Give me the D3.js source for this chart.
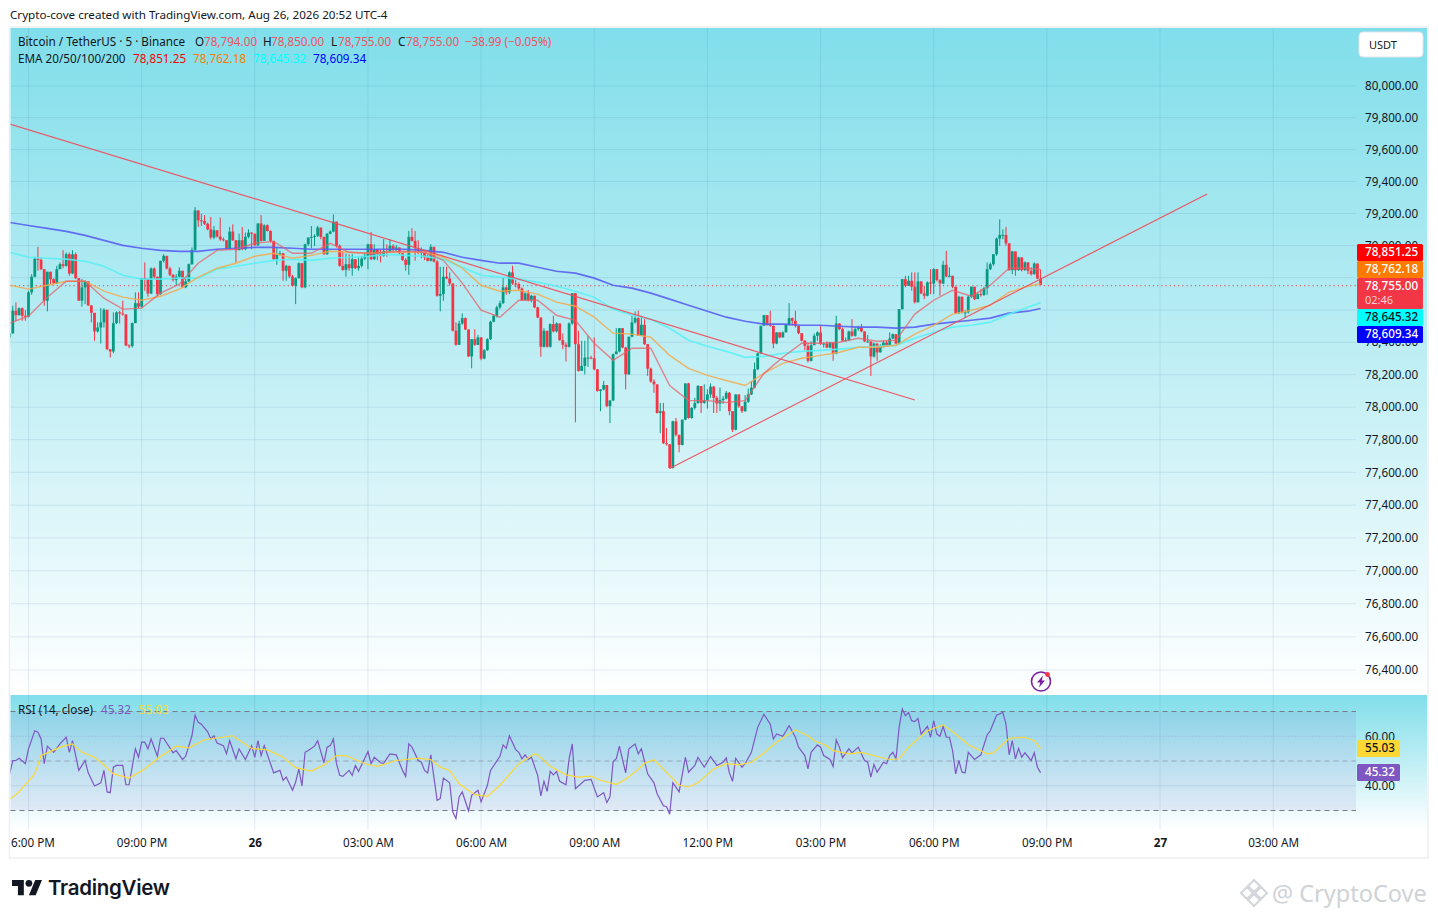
<!DOCTYPE html>
<html><head><meta charset="utf-8">
<script src="https://cdnjs.cloudflare.com/ajax/libs/d3/7.8.5/d3.min.js"></script>
<style>
html,body{margin:0;padding:0;background:#fff;overflow:hidden}
svg{display:block}
text{font-family:"Noto Sans",sans-serif;font-size:11.7px;fill:#131722}
</style></head><body><svg id="c" width="1438" height="918"></svg>
<script>
// ---------- data ----------
const firstOpen = 78430;
const firstBar = -6; // 17:30, bar 0 = 18:00 on Aug 25, one bar = 5 minutes
const closes = [
78456,78595,78568,78611,78564,78558,78709,78806,78917,78911,
78853,78657,78837,78791,78764,78853,78884,78874,78946,78826,
78946,78797,78657,78740,78777,78628,78582,78467,78491,78523,
78601,78357,78343,78518,78585,78578,78572,78380,78376,78518,
78642,78620,78797,78791,78702,78857,78806,78698,78905,78936,
78857,78818,78785,78806,78843,78740,78777,78884,78973,79219,
79157,79153,79136,79101,79050,79095,79056,79039,79033,78981,
79087,79033,78971,79033,78977,79054,79081,79074,79002,79138,
79029,79126,79091,79029,78915,78946,78952,78843,78874,78808,
78750,78797,78890,78740,79008,79050,79054,79060,79112,79054,
78946,79074,79087,79149,78998,78874,78849,78884,78859,78915,
78859,78874,
78919,78936,79008,78915,78977,78946,78936,78967,
78963,78998,78971,78988,78952,78911,78880,79054,79029,78983,
78957,78963,78926,78905,78992,78901,78688,78698,78806,78795,
78764,78471,78384,78516,78549,78479,78312,78419,78384,78430,
78299,78351,78419,78527,78564,78616,78642,78740,78709,78833,
78764,78760,78733,78661,78702,78661,78688,78616,78553,78372,
78471,78372,78512,78467,78516,78413,78384,78372,78516,78704,
78388,78223,78254,78305,78305,78301,78233,78099,78109,78136,
78006,78041,78326,78343,78487,78367,78202,78434,78523,78549,
78440,78508,78388,78237,78157,78140,77964,77975,77778,77772,
77627,77913,77830,77768,77923,78146,77933,77995,78026,78130,
78026,78043,78078,78126,78057,78022,
78043,78053,78088,77975,77861,78078,78006,77975,78033,78078,
78120,78233,78332,78502,78568,78508,78502,78392,78461,78430,
78461,78512,78549,78533,78502,78456,78409,78378,78285,78382,
78440,78461,78388,78392,78367,78398,78330,78516,78481,78409,
78413,78467,78440,78481,78491,78467,78405,78405,78312,78392,
78337,78372,78398,78378,78423,78450,78392,78605,78791,78750,
78781,78744,78647,78777,78702,78688,78771,78764,78853,78785,
78764,78880,78808,78812,78744,78580,78682,78585,78585,78682,
78744,78667,78698,78692,78735,78853,78884,78946,79043,79066,
79066,79014,78847,78963,78847,78926,78847,78895,78843,78822,
78888,78794,78755];
const highs = [
78460,78626,78647,78615,78615,78599,78719,78822,78930,78992,
78926,78853,78837,78837,78797,78874,78895,78971,78957,78957,
78971,78957,78797,78791,78785,78760,78628,78582,78523,78611,
78611,78601,78357,78585,78591,78595,78657,78572,78388,78523,
78709,78709,78797,78895,78797,78864,78864,78806,78905,78946,
78905,78868,78822,78822,78864,78843,78797,78888,78988,79240,
79219,79198,79190,79143,79178,79122,79095,79174,79050,79033,
79116,79132,79033,79074,79116,79081,79101,79081,79074,79138,
79190,79132,79132,79095,79029,78992,78967,78952,78880,78874,
78818,78802,78895,78890,79012,79050,79122,79070,79122,79112,
79054,79078,79095,79194,79149,79008,78967,78950,78946,78946,
78915,78926,
78936,78957,79012,79085,79008,78977,78977,79039,
79008,79039,79008,79004,78988,78952,78921,79091,79108,79091,
79033,78988,78963,78946,79008,78992,78909,78868,78868,78868,
78833,78764,78523,78533,78578,78553,78479,78419,78481,78446,
78430,78357,78425,78533,78570,78626,78657,78802,78744,78839,
78874,78785,78771,78740,78709,78723,78694,78688,78620,78553,
78487,78471,78516,78564,78523,78516,78454,78399,78523,78704,
78704,78471,78409,78409,78440,78316,78429,78233,78109,78161,
78136,78041,78330,78487,78487,78481,78372,78434,78564,78591,
78595,78564,78543,78388,78243,78171,78140,78026,78026,77871,
77772,77917,77933,77830,77923,78146,78150,78000,78057,78136,
78130,78140,78109,78146,78130,78068,
78120,78068,78099,78093,77975,78078,78078,78006,78074,78115,
78161,78275,78332,78502,78568,78568,78595,78502,78461,78461,
78467,78516,78642,78554,78595,78502,78456,78413,78398,78405,
78454,78467,78502,78398,78405,78403,78398,78564,78516,78491,
78430,78471,78543,78491,78502,78512,78467,78446,78405,78398,
78392,78388,78409,78409,78461,78454,78450,78605,78791,78812,
78812,78833,78833,78833,78777,78750,78777,78853,78859,78853,
78791,78905,78967,78864,78812,78744,78688,78682,78599,78688,
78744,78744,78709,78729,78744,78895,78895,78946,79050,79163,
79101,79116,79014,78967,78963,78930,78926,78901,78895,78864,
78895,78888,78850];
const lows = [
78374,78450,78533,78564,78533,78533,78554,78694,78802,78843,
78847,78626,78591,78760,78760,78760,78853,78859,78868,78812,
78822,78791,78657,78620,78636,78624,78523,78409,78460,78392,
78491,78351,78305,78332,78512,78516,78564,78376,78363,78367,
78518,78611,78615,78719,78682,78698,78791,78682,78694,78895,
78851,78810,78777,78750,78797,78735,78735,78771,78880,78967,
79116,79122,79128,79095,79039,79039,79050,79029,79025,78975,
78977,79029,78895,78971,78971,78971,79045,78977,78998,78998,
79025,79029,79087,79019,78911,78880,78936,78781,78781,78797,
78746,78636,78795,78735,78735,78998,78983,78998,79054,79039,
78942,78942,79070,79083,78988,78868,78843,78806,78843,78812,
78853,78843,
78864,78909,78853,78909,78909,78909,78895,78930,
78930,78957,78963,78967,78946,78905,78843,78818,79025,78905,
78946,78921,78909,78901,78901,78895,78682,78591,78657,78791,
78750,78467,78378,78384,78508,78475,78310,78239,78378,78384,
78289,78295,78347,78413,78523,78553,78605,78636,78694,78698,
78756,78740,78723,78657,78657,78653,78647,78611,78549,78310,
78367,78367,78367,78461,78461,78409,78357,78281,78367,78508,
77907,78219,78223,78202,78248,78295,78227,78095,77975,78103,
78000,77902,78037,78326,78337,78363,78109,78198,78430,78516,
78440,78440,78384,78192,78150,78088,77960,77840,77774,77764,
77623,77623,77820,77723,77764,77919,77929,77929,77985,78020,
77964,78020,77991,78057,77964,77964,
77975,78020,78047,77950,77847,77857,77995,77964,77971,78026,
78074,78115,78227,78326,78502,78502,78496,78363,78388,78425,
78430,78461,78502,78502,78491,78450,78405,78351,78275,78281,
78382,78409,78384,78367,78363,78363,78285,78326,78475,78405,
78405,78409,78434,78434,78471,78461,78401,78398,78192,78305,
78285,78337,78367,78372,78378,78419,78388,78388,78601,78740,
78750,78719,78640,78729,78698,78667,78684,78698,78698,78777,
78688,78760,78802,78802,78735,78574,78574,78578,78549,78578,
78673,78661,78667,78682,78688,78694,78847,78874,78936,78998,
79039,78998,78843,78822,78812,78843,78839,78843,78822,78812,
78818,78791,78755];
// moving averages, read every 30 minutes, plus the last bar
const emaBars = d3.range(-6, 322, 6).concat([322]);
const ema20 = [78518,78561,78679,78778,78778,78673,78605,78611,78704,78760,78890,78970,78977,79014,79026,78952,78952,79014,78958,
78952,78958,78964,78958,78908,78766,78598,78555,78660,78660,78567,78536,78394,78288,78363,78363,78133,78040,78040,
78028,78040,78208,78307,78394,78394,78400,78425,78406,78412,78574,78660,78722,78685,78753,78859,78859,78851];
const ema50 = [78753,78729,78753,78778,78778,78716,78679,78660,78685,78729,78803,78859,78890,78933,78952,78921,78939,78964,78958,
78952,78958,78958,78958,78927,78859,78753,78716,78722,78698,78648,78623,78555,78456,78450,78431,78319,78239,78195,
78164,78133,78208,78270,78301,78319,78338,78369,78369,78381,78450,78505,78574,78598,78629,78710,78747,78762];
const ema100 = [78958,78927,78921,78915,78902,78871,78815,78791,78791,78797,78797,78853,78871,78890,78908,78915,78908,78921,78927,
78933,78945,78939,78933,78915,78865,78815,78803,78791,78772,78747,78716,78679,78605,78567,78543,78487,78412,78375,
78344,78307,78313,78332,78344,78350,78357,78369,78375,78381,78425,78462,78493,78505,78524,78574,78617,78645];
const ema200 = [79144,79125,79107,79088,79063,79032,79001,78983,78970,78964,78964,78977,78983,78989,78989,78983,78977,78977,78977,
78977,78977,78977,78970,78958,78927,78908,78890,78890,78865,78840,78828,78797,78753,78735,78704,78667,78629,78592,
78555,78530,78512,78512,78505,78505,78499,78493,78493,78487,78493,78512,78524,78536,78549,78580,78592,78609];
// [bar, value]
const rsiPoints = [[-6,44.8],[-5,50.2],[-4,50.2],[-3,51.1],[-1,48.9],[0,54.9],[2,62.2],[3,61.6],[4,58.9],[5,48.9],[6,56],[8,53.5],[10,56.9],[12,59.6],[13,53.5],[14,58.2],[16,46.2],[18,50.2],[19,45.2],[21,39.9],[23,41.2],[24,46.2],[25,37.5],[26,37.2],[27,47.5],[28,48.2],[30,48.2],[31,40.4],[32,40.4],[34,54.9],[35,51.5],[36,57.6],[37,57.6],[38,54.9],[39,58.9],[41,51.9],[42,59.2],[43,59.2],[46,53.3],[47,54.2],[49,50.6],[50,51.9],[52,60.2],[53,68.5],[54,65.6],[55,64.9],[57,61.8],[58,58.9],[59,60.2],[60,57.3],[62,56.2],[63,52.9],[64,58.2],[66,50.9],[67,54.9],[69,50.6],[71,56.2],[72,51.5],[73,58.2],[74,52.2],[75,56.2],[77,48.9],[78,45.2],[80,46.2],[81,42.2],[82,43.5],[84,38.2],[85,41.5],[86,46.8],[87,39.9],[88,53.5],[89,54.2],[91,56],[92,58.2],[94,49.3],[95,55.6],[96,56.2],[97,58.9],[98,48.9],[99,44.2],[100,43.8],[102,46.2],[103,44.2],[104,48.2],[105,45.8],[108,53.8],[109,48.9],[110,51.5],[112,49.3],[113,49.1],[115,52.9],[117,52.5],[119,46.2],[120,43.8],[121,56.9],[122,55.6],[124,50.2],[125,49.5],[126,46.2],[127,45.2],[128,52.5],[130,34.1],[131,34.8],[132,43.1],[134,41.2],[135,29.4],[136,26.8],[137,35.5],[138,37.5],[140,29.8],[141,36.1],[143,38.2],[144,33.5],[146,40.2],[147,46.2],[150,51.9],[151,56.5],[152,55.1],[153,60.2],[155,54.6],
[156,53.5],[157,50.9],[158,52.5],[159,50.6],[160,51.5],[162,44.2],[163,35.9],[164,41.8],[165,37.7],[166,45.8],[167,44.4],[168,45.8],[169,41.8],[171,40.4],[172,50.9],[173,56.9],[174,38.8],[177,42.2],[179,42.6],[181,35.5],[183,37.2],[184,33.2],[185,35.5],[186,49.8],[187,50.9],[188,56],[190,45.2],[191,54.9],[193,56.9],[194,52.9],[195,54.9],[197,44.8],[199,41.2],[200,36.8],[202,31.9],[203,31.5],[204,28.5],[205,41.2],[207,37.5],[209,51.5],[210,45.5],[212,48.2],[213,51.5],[215,47.5],[217,51.8],[219,48.2],[221,49.5],[222,51.3],[223,45.2],[224,41.8],[225,51.1],[227,47.5],[228,48.9],[230,53.5],[232,63.6],[234,68.9],[236,64.9],[237,58.9],[238,60.9],[240,60],[242,64.3],[244,59.6],[245,55.6],[247,52.2],[248,46.8],[249,53.5],[251,56.5],[252,55.6],[253,52.2],[255,50.6],[256,47.8],[257,58.6],[258,55.6],[259,51.3],[261,54.9],[262,53.3],[264,55.6],[266,50.2],[267,49.5],[268,43.5],[269,48.6],[270,45.5],[272,49.5],[273,48.9],[274,52.2],[275,53.5],[276,50.9],[277,63.6],[278,71],[279,68.3],[280,69.6],[281,66.3],[282,65.9],[283,67.2],[284,60.9],[286,64],[287,59.6],[288,66.3],[289,60.9],[290,60],[291,64],[292,59.6],[293,59.6],[294,54.2],[295,44.8],[296,50.2],[297,45.5],[298,45.2],[299,53.5],[301,50.6],[303,52.5],[305,60.5],[306,62.2],[308,68.5],[310,69.6],[311,64.9],[312,52.5],[313,58.2],[314,50.9],[315,55.1],[316,51.5],[317,53.3],[319,50.2],[320,53.3],[321,47.5],[322,45.32]];
const rsiMaPoints = [[-6,34.4],[-3,37.5],[2,44.8],[4,52.2],[7,53.8],[10,55.6],[14,56.9],[17,53.5],[21,51.5],[24,48.4],[27,44.8],[32,43.1],[37,46.8],[41,50.9],[47,56],[51,55.3],[56,58.6],[65,60.2],[71,55.1],[76,54.5],[81,51.5],[85,47.3],[90,45.9],[94,48.4],[98,52.2],[101,52.2],[107,48.9],[111,47.8],[117,50.2],[124,51.1],[128,50.6],[131,47.5],[134,46.2],[137,40.8],[142,36.4],[146,35.7],[150,40.2],[156,48.9],[161,52.9],[162,52.5],[166,47.9],[171,44.4],[175,43.5],[179,43.9],[182,42.2],[187,40.6],[190,42.6],[194,46.6],[196,49.1],[199,50.5],[204,44.2],[207,40.2],[210,39.5],[213,41.2],[218,46.8],[222,48.9],[226,48.4],[230,49.5],[233,52.2],[238,57.6],[244,62.6],[248,60.2],[250,58.2],[254,56.2],[256,54.2],[261,52.9],[265,53.5],[271,51.5],[274,50.6],[277,50.9],[280,55.6],[286,62.2],[291,64.6],[295,60.9],[299,56.6],[305,52.9],[307,53.3],[312,59.2],[317,59.6],[320,58.2],[322,55.03]];
const trendDown = [[-6,79761],[282,78044]];
const trendUp = [[204,77623],[375,79322]];
const priceTicks = d3.range(76400, 80001, 200);
const hiddenPriceLabels = [78600,78800]; // fully covered by the value tags in the reference
const timeBars = [0,36,72,108,144,180,216,252,288,324,360,396];
const timeLabels = ["6:00 PM","09:00 PM","26","03:00 AM","06:00 AM","09:00 AM","12:00 PM","03:00 PM","06:00 PM","09:00 PM","27","03:00 AM"];
const boldLabels = ["26","27"];
const lastPrice = 78755;
const rsiTicks = [60,40];

// ---------- scales ----------
const svg = d3.select("#c");
const x = d3.scaleLinear().domain([0,36]).range([28.5,141.65]);
const y = d3.scaleLog().domain([80000,76400]).range([86,670]);
const r = d3.scaleLinear().domain([70,30]).range([711.5,810.5]);
const L=10.5,R=1356,PT=28,PB=695,RT=695,RB=830,AX=1428;

const defs = svg.append("defs");
function grad(id,stops){const g=defs.append("linearGradient").attr("id",id).attr("x1",0).attr("x2",0).attr("y1",0).attr("y2",1);
 stops.forEach(s=>g.append("stop").attr("offset",s[0]).attr("stop-color",s[1]));}
grad("g1",[[0,"#80deea"],[1,"#ffffff"]]);
grad("g2",[[0,"#80deea"],[1,"#ffffff"]]);
defs.append("clipPath").attr("id","cp").append("rect").attr("x",L).attr("y",PT).attr("width",R-L).attr("height",PB-PT);
defs.append("clipPath").attr("id","cr").append("rect").attr("x",L).attr("y",RT).attr("width",R-L).attr("height",RB-RT);

// frame + background
svg.append("rect").attr("x",L-1).attr("y",PT-1).attr("width",AX-L+1).attr("height",858-PT+1).attr("fill","#fff").attr("stroke","#eceef1").attr("stroke-width",1.5);
svg.append("rect").attr("x",L).attr("y",PT).attr("width",AX-L-1).attr("height",PB-PT).attr("fill","url(#g1)");
svg.append("rect").attr("x",L).attr("y",RT).attr("width",AX-L-1).attr("height",RB-RT).attr("fill","url(#g2)");

// grid
const gridCol="rgba(70,110,160,0.13)";
svg.append("g").selectAll("line").data(timeBars).join("line")
 .attr("x1",d=>x(d)).attr("x2",d=>x(d)).attr("y1",PT).attr("y2",RB).attr("stroke",gridCol);
svg.append("g").selectAll("line").data(priceTicks).join("line")
 .attr("x1",L).attr("x2",R).attr("y1",d=>y(d)).attr("y2",d=>y(d)).attr("stroke",gridCol);

// price axis
const ya=d3.axisRight(y).tickValues(priceTicks.filter(d=>!hiddenPriceLabels.includes(d))).tickSize(0).tickPadding(0).tickFormat(d3.format(",.2f"));
const yag=svg.append("g").attr("transform",`translate(1365,0)`).call(ya);
yag.select(".domain").remove();
yag.selectAll("text").attr("style","font-size:11.7px;font-family:'Noto Sans',sans-serif").attr("fill","#131722");

// time axis
const xa=d3.axisBottom(x).tickValues(timeBars).tickSize(0).tickPadding(0).tickFormat((d,i)=>timeLabels[i]);
const xag=svg.append("g").attr("transform",`translate(0,838)`).call(xa);
xag.select(".domain").remove();
xag.selectAll("text").attr("dy",0).attr("y",9).attr("style",(d,i)=>"font-size:11.7px;font-family:'Noto Sans',sans-serif;font-weight:"+(boldLabels.includes(timeLabels[i])?"700":"400")).attr("fill","#131722");
xag.selectAll("text").filter((d,i)=>i===0).attr("text-anchor","start").attr("x",L-x(0));

// price dotted line
svg.append("line").attr("x1",L).attr("x2",R).attr("y1",y(lastPrice)+.8).attr("y2",y(lastPrice)+.8).attr("stroke","#f23645").attr("stroke-dasharray","1.2 3").attr("stroke-width",1);

// candles
const candles=closes.map((c,i)=>{const o=i?closes[i-1]:firstOpen;return {k:firstBar+i,o,c,h:Math.max(highs[i],o,c),l:Math.min(lows[i],o,c)};});
const UP="#089981",DN="#f23645";
const cg=svg.append("g").attr("clip-path","url(#cp)");
cg.selectAll("line.w").data(candles).join("line").attr("class","w")
 .attr("x1",d=>x(d.k)).attr("x2",d=>x(d.k)).attr("y1",d=>y(d.h)).attr("y2",d=>y(d.l))
 .attr("stroke",d=>d.c>=d.o?UP:DN).attr("stroke-width",1);
cg.selectAll("rect").data(candles).join("rect")
 .attr("x",d=>x(d.k)-1.4).attr("width",2.8)
 .attr("y",d=>y(Math.max(d.o,d.c))).attr("height",d=>Math.max(1,Math.abs(y(d.o)-y(d.c))))
 .attr("fill",d=>d.c>=d.o?UP:DN);

// moving averages + trend lines
const lg=svg.append("g").attr("clip-path","url(#cp)").attr("fill","none");
const pl=d3.line().x(d=>x(d[0])).y(d=>y(d[1]));
const emaStyles=[[ema200,"#5a5ff2",1.7,.9],[ema100,"#55f1f6",1.7,.85],[ema50,"#f5a94a",1.4,.85],[ema20,"#e8606a",1.4,.75]];
emaStyles.forEach(s=>lg.append("path").attr("d",pl(emaBars.map((b,i)=>[b,s[0][i]]))).attr("stroke",s[1]).attr("stroke-width",s[2]).attr("opacity",s[3]));
[trendDown,trendUp].forEach(t=>lg.append("path").attr("d",pl(t)).attr("stroke","#ef4f5c").attr("stroke-width",1.2).attr("opacity",.95));

// RSI pane
svg.append("rect").attr("x",L).attr("y",r(70)).attr("width",R-L).attr("height",r(30)-r(70)).attr("fill","rgba(126,87,194,0.10)");
const dash=(v,col,da)=>svg.append("line").attr("x1",L).attr("x2",R).attr("y1",r(v)).attr("y2",r(v)).attr("stroke",col).attr("stroke-dasharray",da);
dash(70,"#787b86","5 4");dash(30,"#787b86","5 4");dash(50,"rgba(120,123,134,0.55)","5 4");
dash(60,"rgba(126,87,194,0.35)","1 2");dash(40,"rgba(70,110,160,0.15)","none");
const rl=d3.line().x(d=>x(d[0])).y(d=>r(d[1]));
const rg=svg.append("g").attr("clip-path","url(#cr)").attr("fill","none");
rg.append("path").attr("d",rl(rsiPoints)).attr("stroke","#7e57c2").attr("stroke-width",1.2);
rg.append("path").attr("d",rl(rsiMaPoints)).attr("stroke","#fdd835").attr("stroke-width",1.2);
const rsiAx=d3.axisRight(r).tickValues(rsiTicks).tickSize(0).tickPadding(0).tickFormat(d3.format(".2f"));
const rag=svg.append("g").attr("transform","translate(1365,0)").call(rsiAx);
rag.select(".domain").remove();
rag.selectAll("text").attr("style","font-size:11.7px;font-family:'Noto Sans',sans-serif").attr("fill","#131722");

// tags
function tag(x0,y0,w,h,fill,txt,col,sub){
 svg.append("rect").attr("x",x0).attr("y",y0).attr("width",w).attr("height",h).attr("rx",1.5).attr("fill",fill);
 svg.append("text").attr("x",x0+8).attr("y",y0+12).attr("style",`fill:${col};font-weight:500;font-size:11.7px`).text(txt);
 if(sub) svg.append("text").attr("x",x0+8).attr("y",y0+26).attr("style","fill:#fbd0d4;font-size:11px").text(sub);
}
tag(1357,244,66,17,"#ff0000","78,851.25","#fff");
tag(1357,261,66,17,"#ff7b00","78,762.18","#fff");
tag(1357,278,66,31,"#f23645","78,755.00","#fff","02:46");
tag(1357,309,66,17,"#00ffff","78,645.32","#131722");
tag(1357,326,66,17,"#0000ff","78,609.34","#fff");
tag(1357,740,43,17,"#fdd835","55.03","#131722");
tag(1357,764,43,17,"#7e57c2","45.32","#fff");

// USDT button
svg.append("rect").attr("x",1359).attr("y",32).attr("width",64).attr("height",25).attr("rx",4).attr("fill","#fff").attr("stroke","#e0e3eb");
svg.append("text").attr("x",1369).attr("y",49).attr("style","font-size:11px").text("USDT");

// header + legends
svg.append("text").attr("x",10).attr("y",19).attr("style","font-size:11.65px").text("Crypto-cove created with TradingView.com, Aug 26, 2026 20:52 UTC-4");
function seq(y0,parts){parts.forEach(p=>svg.append("text").attr("x",p[0]).attr("y",y0).attr("style",`fill:${p[2]||"#131722"};font-size:11.7px`).text(p[1]));}
const dn="#f0525f";
seq(46,[[18,"Bitcoin / TetherUS · 5 · Binance"],[195,"O"],[204,"78,794.00",dn],[263,"H"],[271,"78,850.00",dn],[331,"L"],[338,"78,755.00",dn],[398,"C"],[406,"78,755.00",dn],[465,"−38.99 (−0.05%)",dn]]);
seq(63,[[18,"EMA 20/50/100/200"],[133,"78,851.25","#ff0000"],[193,"78,762.18","#ff7b00"],[253,"78,645.32","#00ffff"],[313,"78,609.34","#0000ff"]]);
seq(714,[[18,"RSI (14, close)"],[101,"45.32","#7e57c2"],[139,"55.03","#fdd835"]]);

// lightning badge
const b=svg.append("g").attr("transform","translate(1041,681.5)");
b.append("circle").attr("r",9.5).attr("fill","none").attr("stroke","#7b1fa2").attr("stroke-width",1.6);
b.append("path").attr("d","M2-6L-4 1h3.2L-2 6 4-1H.8z").attr("fill","#7b1fa2");
b.append("circle").attr("cx",6.5).attr("cy",-7).attr("r",2.4).attr("fill","#f23645");

// logo
const lo=svg.append("g").attr("transform","translate(12,876.6) scale(.845)").attr("fill","#131722");
lo.append("path").attr("d","M14 22H7V11H0V4h14v18zM28 22h-8l7.5-18h8L28 22z");
lo.append("circle").attr("cx",20).attr("cy",8).attr("r",4);
svg.append("text").attr("x",48).attr("y",895).attr("style","font-family:Inter,Roboto,sans-serif;font-weight:600;font-size:20.5px;fill:#131722;letter-spacing:-.3px").text("TradingView");

// watermark
const wm=svg.append("g").attr("transform","translate(1254,893)").attr("fill","none").attr("stroke","#d3d6da").attr("stroke-width",2);
wm.append("path").attr("d","M0-13L6-7 0-1-6-7zM-7-6L-1 0-7 6-13 0zM7-6L13 0 7 6 1 0zM0 1L6 7 0 13-6 7z");
svg.append("text").attr("x",1272).attr("y",902).attr("style","font-size:23.5px;fill:#cfd2d6").text("@ CryptoCove");
</script></body></html>
